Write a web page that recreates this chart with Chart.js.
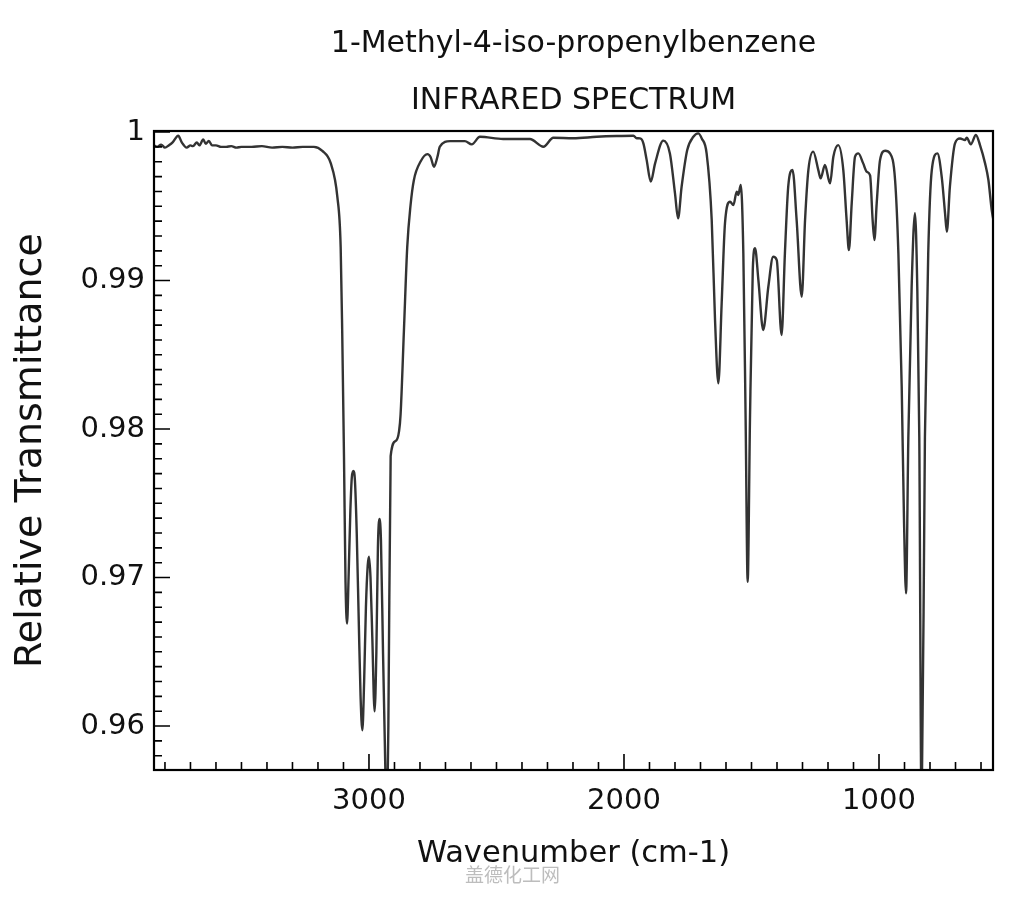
<!DOCTYPE html>
<html>
<head>
<meta charset="utf-8">
<script src="https://cdn.jsdelivr.net/npm/chart.js@4/dist/chart.umd.min.js"></script>
<style>
  html, body { margin: 0; padding: 0; background: #fff; }
  #wrap { width: 1024px; height: 900px; position: relative; }
</style>
</head>
<body>
<div id="wrap"><canvas id="c"></canvas></div>
<script>
const chartTitle = ['1-Methyl-4-iso-propenylbenzene', 'INFRARED SPECTRUM'];
const xAxisTitle = 'Wavenumber (cm-1)';
const yAxisTitle = 'Relative Transmittance';
const watermark = '盖德化工网';

const xTickValues = [1000, 2000, 3000];
const yTickValues = [0.96, 0.97, 0.98, 0.99, 1];

const wavenumbers = [
  3843, 3830, 3815, 3800, 3785, 3770, 3748, 3734, 3715, 3700, 3690, 3675, 3665, 3650, 3640, 3628, 3615,
  3600, 3580, 3560, 3540, 3520, 3500, 3460, 3420, 3380, 3340, 3300, 3260, 3216, 3183, 3150, 3124, 3111,
  3105, 3098, 3092, 3086, 3080, 3073, 3067, 3061, 3055, 3048, 3040, 3033, 3026, 3019, 3012, 3005, 3000,
  2994, 2987, 2978, 2971, 2965, 2959, 2953, 2945, 2938, 2931, 2924, 2915, 2895, 2882, 2876, 2863, 2850,
  2837, 2824, 2797, 2771, 2758, 2745, 2732, 2722, 2682, 2624, 2597, 2565, 2474, 2369, 2316, 2277, 2199,
  2107, 2029, 1963, 1950, 1937, 1924, 1911, 1895, 1878, 1846, 1820, 1800, 1788, 1774, 1752, 1728, 1709,
  1695, 1676, 1656, 1643, 1630, 1617, 1604, 1584, 1571, 1558, 1552, 1542, 1532, 1523, 1515, 1506, 1495,
  1486, 1473, 1454, 1434, 1415, 1401, 1382, 1369, 1356, 1339, 1323, 1303, 1290, 1277, 1258, 1238, 1229,
  1212, 1192, 1179, 1160, 1140, 1127, 1118, 1107, 1094, 1081, 1062, 1048, 1035, 1025, 1018, 1009, 996,
  976, 957, 937, 924, 911, 902, 894, 885, 872, 859, 850, 842, 833, 820, 807, 793, 771, 754, 741, 734,
  722, 702, 682, 663, 656, 640, 620, 604, 584, 571, 558, 545
];

const transmittance = [
  0.9991, 0.9990, 0.99915, 0.99895, 0.9991, 0.9993, 0.99975, 0.9993, 0.99895, 0.9991, 0.99905, 0.9993, 0.9991, 0.9995, 0.9992, 0.9994, 0.9991,
  0.9991, 0.9990, 0.9990, 0.99905, 0.99895, 0.9990, 0.9990, 0.99905, 0.99895, 0.9990, 0.99895, 0.9990, 0.9990, 0.99873, 0.9979, 0.99563, 0.99225,
  0.9866, 0.97817, 0.9697, 0.9669, 0.9700, 0.9745, 0.9768, 0.97718, 0.9765, 0.9730, 0.9670, 0.9620, 0.95972, 0.9630, 0.9680, 0.9708, 0.97141,
  0.9700, 0.9660, 0.96099, 0.9650, 0.9720, 0.97394, 0.9725, 0.9650, 0.9590, 0.9540, 0.9600, 0.97817, 0.97920, 0.97986, 0.9810, 0.98662, 0.99225,
  0.99507, 0.99676, 0.99803, 0.99851, 0.9983, 0.99766, 0.9983, 0.99901, 0.99939, 0.99939, 0.99917, 0.99968, 0.99953, 0.99953, 0.99901, 0.99962, 0.99958,
  0.99968, 0.99973, 0.99975, 0.99958, 0.99957, 0.99924, 0.99811, 0.99666, 0.99789, 0.99942, 0.99856, 0.99587, 0.99419, 0.99632, 0.99879, 0.99968, 0.99991,
  0.99957, 0.99856, 0.99407, 0.98734, 0.98308, 0.98846, 0.99385, 0.99531, 0.99508, 0.99598, 0.99576, 0.99643, 0.99183, 0.98061, 0.96972, 0.98061, 0.99071,
  0.99217, 0.99003, 0.98667, 0.98958, 0.9916, 0.99138, 0.98633, 0.99183, 0.99632, 0.99744, 0.99407, 0.98891, 0.99407, 0.99744, 0.99868, 0.99744, 0.99688,
  0.99778, 0.99654, 0.99834, 0.99912, 0.99744, 0.99407, 0.99205, 0.99521, 0.99834, 0.99856, 0.99789, 0.99733, 0.99708, 0.99407, 0.99273, 0.99521, 0.99811,
  0.99874, 0.99856, 0.99677, 0.99183, 0.98285, 0.97387, 0.96894, 0.9794, 0.98958, 0.99453, 0.98958, 0.9794, 0.9540, 0.9794, 0.99183, 0.99744, 0.99856, 0.99697, 0.99453, 0.99329,
  0.99632, 0.99924, 0.99957, 0.99946, 0.99962, 0.99917, 0.9998, 0.99912, 0.99789, 0.99677, 0.99475, 0.9935
];

const points = wavenumbers.map((w, i) => ({ x: w, y: transmittance[i] }));

const frameTicks = {
  id: 'frameTicks',
  afterDatasetsDraw(chart) {
    const { ctx, chartArea: a, scales: { x, y } } = chart;
    ctx.save();
    ctx.strokeStyle = '#000';
    ctx.lineWidth = 1.6;
    ctx.beginPath();
    for (let v = 600; v <= 3800; v += 100) {
      const px = x.getPixelForValue(v);
      const len = v % 1000 === 0 ? 16 : 8;
      ctx.moveTo(px, a.bottom);
      ctx.lineTo(px, a.bottom - len);
    }
    for (let i = 958; i <= 1000; i++) {
      const py = y.getPixelForValue(i / 1000);
      const len = i % 10 === 0 ? 16 : 8;
      ctx.moveTo(a.left, py);
      ctx.lineTo(a.left + len, py);
    }
    ctx.stroke();
    ctx.lineWidth = 2.2;
    ctx.strokeRect(a.left, a.top, a.right - a.left, a.bottom - a.top);
    ctx.fillStyle = '#bdbdbd';
    ctx.font = '19px "Noto Sans CJK SC"';
    ctx.textAlign = 'center';
    ctx.textBaseline = 'middle';
    ctx.fillText(watermark, (a.left + a.right) / 2 - 61, chart.height - 25);
    ctx.restore();
  }
};

new Chart(document.getElementById('c'), {
  type: 'line',
  data: {
    datasets: [{
      data: points,
      borderColor: '#333333',
      borderWidth: 2.4,
      pointRadius: 0,
      fill: false,
      cubicInterpolationMode: 'monotone'
    }]
  },
  options: {
    responsive: true,
    maintainAspectRatio: false,
    animation: false,
    layout: { padding: { left: 0, right: 31, top: 0, bottom: 0 } },
    plugins: {
      legend: { display: false },
      tooltip: { enabled: false },
      title: {
        display: true,
        fullSize: false,
        text: chartTitle,
        color: '#111',
        font: { family: 'DejaVu Sans', size: 30, weight: 'normal', lineHeight: 1.9 },
        padding: { top: 16, bottom: 1 }
      }
    },
    scales: {
      x: {
        type: 'linear',
        reverse: true,
        min: 553,
        max: 3843,
        grid: { display: false, drawTicks: false },
        border: { display: false },
        afterBuildTicks: s => { s.ticks = xTickValues.map(v => ({ value: v })); },
        afterFit: s => { s.height = 130; },
        ticks: {
          color: '#111',
          padding: 14,
          maxRotation: 0,
          font: { family: 'DejaVu Sans', size: 29 },
          callback: v => String(v)
        },
        title: {
          display: true,
          text: xAxisTitle,
          color: '#111',
          font: { family: 'DejaVu Sans', size: 30.5 },
          padding: { top: 0, bottom: 28 }
        }
      },
      y: {
        type: 'linear',
        min: 0.95704,
        max: 1.00007,
        grid: { display: false, drawTicks: false },
        border: { display: false },
        afterBuildTicks: s => { s.ticks = yTickValues.map(v => ({ value: v })); },
        afterFit: s => { s.width = 154; },
        ticks: {
          color: '#111',
          padding: 9,
          font: { family: 'DejaVu Sans', size: 29 },
          callback: v => String(+Number(v).toFixed(2))
        },
        title: {
          display: true,
          text: yAxisTitle,
          color: '#111',
          font: { family: 'DejaVu Sans', size: 38 },
          padding: { top: 8, bottom: 0 }
        }
      }
    }
  },
  plugins: [frameTicks]
});
</script>
</body>
</html>
